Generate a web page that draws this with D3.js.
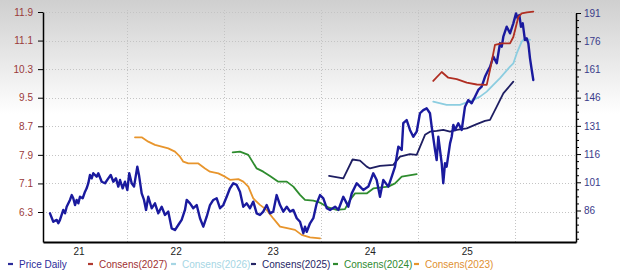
<!DOCTYPE html>
<html>
<head>
<meta charset="utf-8">
<script src="https://cdn.jsdelivr.net/npm/d3@7"></script>
<style>
  html, body { margin: 0; padding: 0; background: #fff; }
  svg { display: block; font-family: "Liberation Sans", Arial, sans-serif; }
</style>
</head>
<body>
<svg id="chart" width="620" height="272"></svg>
<script>
// ---- Data (decimal years) ----
const priceDates = [
2020.705,2020.739,2020.774,2020.791,2020.808,2020.842,2020.860,2020.877,2020.911,2020.929,2020.945,2020.963,2020.980,2020.997,2021.014,2021.042,2021.066,2021.083,2021.100,2021.117,2021.135,2021.151,2021.186,2021.203,2021.238,2021.272,2021.306,2021.331,2021.358,2021.385,2021.409,2021.427,2021.454,2021.478,2021.502,2021.522,2021.547,2021.571,2021.605,2021.622,2021.650,2021.674,2021.695,2021.718,2021.753,2021.787,2021.821,2021.856,2021.890,2021.924,2021.959,2021.993,2022.027,2022.062,2022.096,2022.114,2022.148,2022.182,2022.217,2022.251,
2022.285,2022.320,2022.354,2022.388,2022.423,2022.457,2022.491,2022.526,2022.560,2022.594,2022.629,2022.663,2022.697,2022.732,2022.766,2022.800,2022.835,2022.869,2022.903,2022.938,2022.972,2023.006,2023.041,2023.076,2023.110,2023.145,2023.179,2023.213,2023.248,2023.282,2023.316,2023.333,2023.351,2023.385,2023.419,2023.454,2023.488,2023.522,2023.557,2023.591,
2023.643,2023.677,2023.728,2023.763,2023.780,2023.815,2023.866,2023.900,2023.934,2023.986,2024.037,2024.072,2024.106,2024.140,2024.192,2024.227,2024.261,2024.295,2024.330,2024.346,2024.381,2024.415,2024.449,2024.484,2024.518,2024.552,2024.587,2024.621,2024.639,2024.673,2024.690,2024.707,2024.742,2024.758,2024.776,2024.793,2024.828,2024.845,2024.862,2024.879,2024.913,2024.948,2024.982,2025.016,2025.051,2025.085,2025.119,2025.154,2025.188,2025.222,2025.240,2025.274,2025.309,2025.343,2025.361,2025.377,2025.412,2025.446,2025.480,2025.508,2025.525,2025.542,2025.559,2025.577,2025.600,2025.618,2025.635,2025.652,2025.670,2025.686];
const priceValues = [
84.5,80.0,81.0,79.2,81.0,86.3,84.5,88.0,91.6,94.2,92.5,88.9,91.6,89.8,93.3,92.5,96.0,97.8,100.5,104.9,103.1,105.8,104.0,105.8,101.3,100.5,103.1,104.9,101.3,103.1,98.7,102.2,97.8,101.3,96.9,105.8,100.5,98.7,109.3,104.9,95.1,91.6,86.3,93.3,87.2,89.8,84.5,88.0,83.6,85.4,76.5,75.6,78.3,81.0,86.3,91.6,89.8,87.2,88.9,81.9,
77.4,82.7,88.9,91.6,92.5,87.2,88.9,93.3,97.8,100.5,99.6,96.0,88.0,89.8,87.2,90.7,84.5,83.6,85.4,88.9,84.5,85.4,94.2,88.9,85.4,88.0,85.4,86.3,81.9,80.0,73.9,77.4,74.7,79.2,81.9,89.8,94.2,92.5,87.2,86.3,
88.0,86.3,93.3,89.8,88.0,95.1,100.5,98.7,96.9,98.7,105.8,102.2,93.3,102.2,98.7,104.0,109.3,119.9,118.2,132.4,134.1,128.8,125.2,127.9,137.7,139.4,140.3,137.7,130.5,118.2,112.8,125.2,111.1,100.5,111.1,109.3,121.7,125.2,131.5,128.8,132.4,128.8,141.2,144.7,143.0,146.5,150.1,151.8,157.1,160.7,162.4,167.8,164.3,174.9,173.1,178.4,183.7,180.2,185.5,190.8,188.2,189.9,183.7,185.5,176.6,177.5,174.9,166.9,160.7,155.4];

const c2027Dates = [2024.655,2024.742,2024.810,2024.897,2025.000,2025.103,2025.206,2025.240,2025.291,2025.360,2025.446,2025.480,2025.532,2025.566,2025.621,2025.686];
const c2027Values = [9.97,10.22,10.06,10.02,9.92,9.87,9.86,10.28,10.98,11.02,11.02,11.20,11.76,11.86,11.89,11.91];

const c2026Dates = [2024.655,2024.793,2024.931,2025.068,2025.137,2025.206,2025.274,2025.343,2025.446,2025.480,2025.515,2025.566,2025.600,2025.652];
const c2026Values = [9.39,9.30,9.30,9.44,9.53,9.67,9.86,10.05,10.37,10.46,10.74,11.07,11.16,11.12];

const c2025Dates = [2023.581,2023.728,2023.823,2023.900,2023.969,2024.003,2024.106,2024.243,2024.312,2024.415,2024.484,2024.570,2024.621,2024.690,2024.758,2024.828,2024.897,2025.000,2025.103,2025.188,2025.240,2025.309,2025.377,2025.480];
const c2025Values = [7.31,7.24,7.77,7.74,7.57,7.52,7.59,7.62,7.85,7.92,7.90,8.46,8.55,8.57,8.60,8.55,8.60,8.64,8.76,8.85,8.88,9.25,9.62,9.95];

const c2024Dates = [2022.588,2022.663,2022.749,2022.835,2022.903,2022.972,2023.058,2023.145,2023.213,2023.282,2023.333,2023.419,2023.488,2023.573,2023.660,2023.745,2023.797,2023.849,2023.969,2024.037,2024.192,2024.261,2024.330,2024.484];
const c2024Values = [7.97,7.99,7.90,7.52,7.43,7.31,7.15,7.15,7.01,6.78,6.64,6.62,6.56,6.43,6.36,6.38,6.64,6.82,6.82,6.96,7.01,7.10,7.29,7.36];

const c2023Dates = [2021.581,2021.650,2021.718,2021.787,2021.856,2021.924,2021.993,2022.045,2022.079,2022.130,2022.234,2022.303,2022.354,2022.440,2022.509,2022.560,2022.646,2022.697,2022.749,2022.800,2022.869,2022.938,2023.006,2023.076,2023.161,2023.230,2023.299,2023.385,2023.488];
const c2023Values = [8.39,8.39,8.27,8.18,8.13,8.08,7.99,7.85,7.71,7.66,7.66,7.52,7.43,7.38,7.29,7.20,7.22,7.15,7.01,6.68,6.50,6.36,6.12,5.89,5.84,5.80,5.66,5.59,5.56];

const leftTicks = [6.3, 7.1, 7.9, 8.7, 9.5, 10.3, 11.1, 11.9];
const rightTicks = [86, 101, 116, 131, 146, 161, 176, 191];
const yearTicks = [2021, 2022, 2023, 2024, 2025];
const yearLabels = ["21", "22", "23", "24", "25"];
const legendLabels = ["Price Daily", "Consens(2027)", "Consens(2026)", "Consens(2025)", "Consens(2024)", "Consens(2023)"];

// ---- Chart ----
const svg = d3.select("#chart");
const W = 620, H = 272;
const L = 43, R = 576, T = 12, B = 242;

const defs = svg.append("defs");
const grad = defs.append("linearGradient").attr("id", "bg").attr("x1", 0).attr("y1", 0).attr("x2", 0).attr("y2", 1);
grad.append("stop").attr("offset", "0%").attr("stop-color", "#cfcfcf");
grad.append("stop").attr("offset", "42%").attr("stop-color", "#ffffff");
grad.append("stop").attr("offset", "100%").attr("stop-color", "#ffffff");
svg.append("rect").attr("width", W).attr("height", H).attr("fill", "url(#bg)");

const x = d3.scaleLinear().domain([2020.633, 2026.126]).range([L, R]);
const yL = d3.scaleLinear().domain([5.46, 11.9]).range([B, T]);
const yR = d3.scaleLinear().domain([69.25, 191]).range([B, 13]);

// gridlines
const grid = svg.append("g");
grid.selectAll("line.h").data(leftTicks).join("line")
  .attr("x1", L).attr("x2", R)
  .attr("y1", d => Math.round(yL(d)) + 0.5).attr("y2", d => Math.round(yL(d)) + 0.5)
  .attr("stroke", "#c4c4c4").attr("stroke-width", 1).attr("stroke-dasharray", "1,2");
grid.selectAll("line.v").data(yearTicks).join("line")
  .attr("y1", 10).attr("y2", B)
  .attr("x1", d => Math.round(x(d + 0.5)) + 0.5).attr("x2", d => Math.round(x(d + 0.5)) + 0.5)
  .attr("stroke", "#c4c4c4").attr("stroke-width", 1).attr("stroke-dasharray", "1,2");

// lines
function drawLine(dates, values, yScale, color, width) {
  const pts = dates.map((d, i) => [d, values[i]]);
  svg.append("path").datum(pts)
    .attr("fill", "none").attr("stroke", color).attr("stroke-width", width)
    .attr("stroke-linejoin", "round").attr("stroke-linecap", "round")
    .attr("d", d3.line().x(d => x(d[0])).y(d => yScale(d[1])));
}
drawLine(c2023Dates, c2023Values, yL, "#e8952c", 1.8);
drawLine(c2024Dates, c2024Values, yL, "#2e8c2e", 1.8);
drawLine(c2025Dates, c2025Values, yL, "#1e1e62", 1.8);
drawLine(c2026Dates, c2026Values, yL, "#8ccde0", 1.8);
drawLine(priceDates, priceValues, yR, "#1a1a9e", 2.4);
drawLine(c2027Dates, c2027Values, yL, "#b02e22", 1.8);

// left axis
const axL = svg.append("g").attr("transform", `translate(${L},0)`)
  .call(d3.axisLeft(yL).tickValues(leftTicks).tickFormat(d3.format(".1f")).tickSize(5).tickSizeOuter(0));
axL.select(".domain").attr("stroke", "#000").attr("stroke-width", 1.5);
axL.selectAll(".tick line").attr("stroke", "#000");
axL.selectAll(".tick text").attr("fill", "#9a3a3a").attr("font-size", 10).attr("font-family", "Liberation Sans, Arial, sans-serif").attr("dx", -2);

// right axis with minor ticks
const minor = d3.range(71, 191.01, 3.75).filter(v => !rightTicks.includes(v));
const axRm = svg.append("g").attr("transform", `translate(${R},0)`)
  .call(d3.axisRight(yR).tickValues(minor).tickFormat("").tickSize(3).tickSizeOuter(0));
axRm.select(".domain").remove();
axRm.selectAll(".tick line").attr("stroke", "#000");
const axR = svg.append("g").attr("transform", `translate(${R},0)`)
  .call(d3.axisRight(yR).tickValues(rightTicks).tickSize(5).tickSizeOuter(0));
axR.select(".domain").attr("stroke", "#000").attr("stroke-width", 1.5);
axR.selectAll(".tick line").attr("stroke", "#000");
axR.selectAll(".tick text").attr("fill", "#3a3a8a").attr("font-size", 10).attr("font-family", "Liberation Sans, Arial, sans-serif").attr("dx", 0);

// bottom axis
const axB = svg.append("g").attr("transform", `translate(0,${B})`)
  .call(d3.axisBottom(x).tickValues(yearTicks).tickFormat((d, i) => yearLabels[i]).tickSize(0).tickSizeOuter(0));
axB.select(".domain").attr("stroke", "#000").attr("stroke-width", 1.8);
axB.selectAll(".tick text").attr("fill", "#222").attr("font-size", 10).attr("font-family", "Liberation Sans, Arial, sans-serif").attr("dy", "0.95em");

// legend
const legendColors = ["#2c2c9a", "#a03030", "#a6d6e4", "#262666", "#2f8a2f", "#e09030"];
const markerColors = ["#2c2c9a", "#b03a30", "#a6d6e4", "#262666", "#2f8a2f", "#e8952c"];
const legendX = [8, 88, 171, 251, 333, 414];
const lg = svg.append("g").attr("transform", "translate(0,264)");
legendLabels.forEach((lab, i) => {
  lg.append("line").attr("x1", legendX[i]).attr("x2", legendX[i] + 5)
    .attr("y1", 0).attr("y2", 0).attr("stroke", markerColors[i]).attr("stroke-width", 2.2);
  lg.append("text").attr("x", legendX[i] + 11).attr("y", 3.6)
    .attr("font-size", 10).attr("fill", legendColors[i]).text(lab);
});
</script>
</body>
</html>
